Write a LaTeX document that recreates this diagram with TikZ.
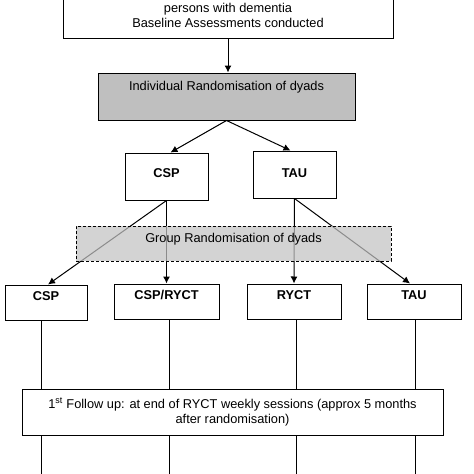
\documentclass[tikz,border=0pt]{standalone}
\usepackage{fontspec}
\setmainfont{Liberation Sans}
\usetikzlibrary{shapes,arrows,arrows.meta}
\usetikzlibrary{positioning}
\tikzset{box/.style={draw,line width=1pt,fill=white,inner xsep=0pt,inner ysep=3pt,align=center},  }

\begin{document}
\begin{tikzpicture}[->,>={Latex[length=7pt,width=7pt]},line width=1pt,x=1pt,y=-1pt,
        font=\fontsize{12.8}{15}\selectfont,
        arm/.style={box,font=\fontsize{12.8}{15}\selectfont\bfseries,text height=21.7pt,text depth=19.3pt},
        armrow/.style={box,font=\fontsize{12.8}{15}\selectfont\bfseries,text height=12.6pt,text depth=16.4pt}]
    \useasboundingbox (0,0) rectangle (474,474);
    \node[box,minimum width=330pt,minimum height=45pt] (start) at (228,15.5) {persons with dementia\\Baseline Assessments conducted};
    \node[box,fill=black!25,minimum width=257pt,text height=14.5pt,text depth=26.5pt] (indiv) at (226.5,96.5) {Individual Randomisation of dyads};
    \node[arm,minimum width=83pt] (csp) at (166.5,176.5) {CSP};
    \node[arm,minimum width=83pt,text height=23.7pt,text depth=17.3pt] (tau) at (294.5,174.5) {TAU};

    \node[armrow,minimum width=82pt] (cspL) at (46,302.5) {CSP};
    \node[armrow,minimum width=105pt] (cspryct) at (166.5,301.5) {CSP/RYCT};
    \node[armrow,minimum width=94pt] (ryct) at (294,301.5) {RYCT};
    \node[armrow,minimum width=94pt] (tauR) at (414,301.5) {TAU};

    \node[box,minimum width=421pt,minimum height=46pt] (follow) at (232.5,412) {1\textsuperscript{st} Follow up: at end of RYCT weekly sessions (approx 5 months\\after randomisation)};
    \coordinate (bottom) at (0,480);

    \draw (start.south) -- (start.south |- indiv.north);
    \draw (indiv.south) -- ([xshift=4pt]csp.north);
    \draw (indiv.south) -- ([xshift=-4pt]tau.north);
    \draw (csp.south) -- ([xshift=2pt]cspL.north);
    \draw (csp.south) -- (cspryct.north);
    \draw (tau.south) -- (ryct.north);
    \draw (tau.south) -- ([xshift=-4pt]tauR.north);

    % group box lies over the lines
    \node[box,dashed,dash pattern=on 3pt off 2pt,fill=black!24,fill opacity=0.72,text opacity=1,
          minimum width=315pt,text height=13.5pt,text depth=15.5pt] (group) at (233.5,243.5) {Group Randomisation of dyads};

    \foreach \n/\dx in {cspL/-5,cspryct/2.5,ryct/2,tauR/1}
    {
      \draw[-] ([xshift=\dx pt]\n.south) -- ([xshift=\dx pt]\n.south |- follow.north);
      \draw[-] ([xshift=\dx pt]\n.south |- follow.south) -- ([xshift=\dx pt]\n.south |- bottom);
    }
\end{tikzpicture}
\end{document}
